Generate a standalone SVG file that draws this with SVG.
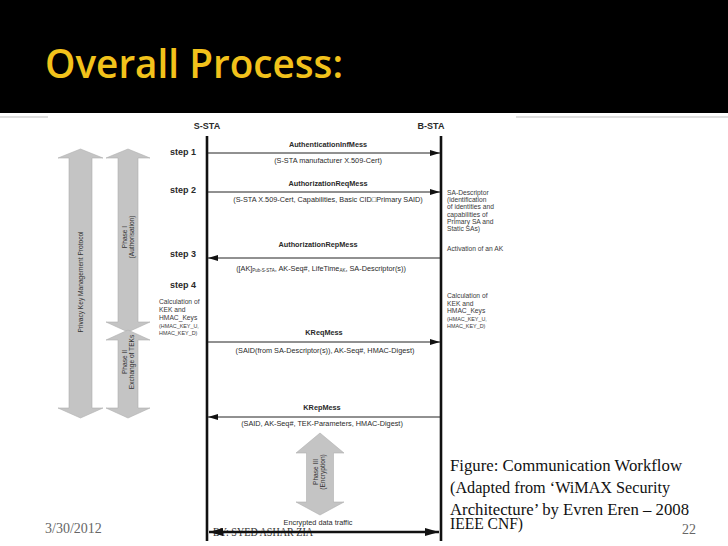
<svg xmlns="http://www.w3.org/2000/svg" width="728" height="546" viewBox="0 0 728 546">
<defs>
<style>
.t{font-family:"Liberation Sans",Arial,sans-serif;fill:#2a2a2a}
.lbl{font-size:7.3px;font-weight:bold;text-anchor:middle}
.sub{font-size:7.3px;text-anchor:middle}
.step{font-size:9px;font-weight:bold}
.note{font-size:6.7px;fill:#3a3a3a}
.small{font-size:5.4px;fill:#3a3a3a}
.rot{font-size:6.6px;text-anchor:middle;fill:#333}
.msg{stroke:#222;stroke-width:1;fill:none}
.life{stroke:#111;stroke-width:2.6}
.garrow{fill:#c4c4c4;stroke:#b0b0b0;stroke-width:0.6}
.serif{font-family:"Liberation Serif","Times New Roman",serif}
</style>
<marker id="ah" viewBox="0 0 10 6" refX="10" refY="3" markerWidth="10" markerHeight="6" markerUnits="userSpaceOnUse" orient="auto">
<path d="M0,0 L10,3 L0,6 z" fill="#111"/>
</marker>
<marker id="ahb" viewBox="0 0 14 8" refX="14" refY="4" markerWidth="14" markerHeight="8" markerUnits="userSpaceOnUse" orient="auto-start-reverse">
<path d="M0,0 L14,4 L0,8 z" fill="#111"/>
</marker>
</defs>
<rect x="0" y="0" width="728" height="546" fill="#ffffff"/>
<g id="header">
<rect x="0" y="0" width="728" height="113" fill="#000000"/>
<text x="45" y="78" font-family="Open Sans,Lato,sans-serif" font-size="40" font-weight="600" fill="#F2C21B" textLength="298" lengthAdjust="spacingAndGlyphs">Overall Process:</text>
<line x1="0" y1="117" x2="48" y2="117" stroke="#bdbdbd" stroke-width="1.2"/>
<line x1="516" y1="117" x2="728" y2="117" stroke="#bdbdbd" stroke-width="1.2"/>
</g>
<g id="pkm-arrow">
<polygon class="garrow" points="80.5,149 103,158 92,158 92,408 103,408 80.5,418 58,408 69,408 69,158 58,158"/>
<text class="t rot" transform="translate(82.5,282) rotate(-90)">Privacy Key Management Protocol</text>
</g>
<g id="phase1-arrow">
<polygon class="garrow" points="128,149 150,158 138,158 138,322 150,322 128,332 106,322 118,322 118,158 106,158"/>
<text class="t rot" transform="translate(127,237) rotate(-90)">Phase I</text>
<text class="t rot" transform="translate(134,237) rotate(-90)">(Authorisation)</text>
</g>
<g id="phase2-arrow">
<polygon class="garrow" points="128,330 150,340 138,340 138,408 150,408 128,418 106,408 118,408 118,340 106,340"/>
<text class="t rot" transform="translate(127,362) rotate(-90)">Phase II</text>
<text class="t rot" transform="translate(134,362) rotate(-90)">Exchange of TEKs</text>
</g>
<g id="s-sta">
<text class="t" x="207" y="129" font-size="9" font-weight="bold" text-anchor="middle">S-STA</text>
<line class="life" x1="207" y1="136" x2="207" y2="541"/>
</g>
<g id="b-sta">
<text class="t" x="431" y="129" font-size="9" font-weight="bold" text-anchor="middle">B-STA</text>
<line class="life" x1="441" y1="136" x2="441" y2="541"/>
</g>
<g id="steps">
<text class="t step" x="170" y="155">step 1</text>
<text class="t step" x="170" y="193">step 2</text>
<text class="t step" x="170" y="257">step 3</text>
<text class="t step" x="170" y="288">step 4</text>
</g>
<g id="left-calc">
<text class="t note" x="159" y="304">Calculation of</text>
<text class="t note" x="159" y="312">KEK and</text>
<text class="t note" x="159" y="320">HMAC_Keys</text>
<text class="t small" x="159" y="328">(HMAC_KEY_U,</text>
<text class="t small" x="159" y="335">HMAC_KEY_D)</text>
</g>
<g id="right-notes">
<text class="t note" x="447" y="195">SA-Descriptor</text>
<text class="t note" x="447" y="202.2">(identification</text>
<text class="t note" x="447" y="209.4">of identities and</text>
<text class="t note" x="447" y="216.6">capabilities of</text>
<text class="t note" x="447" y="223.8">Primary SA and</text>
<text class="t note" x="447" y="231">Static SAs)</text>
<text class="t note" x="447" y="251">Activation of an AK</text>
<text class="t note" x="447" y="298">Calculation of</text>
<text class="t note" x="447" y="305.5">KEK and</text>
<text class="t note" x="447" y="313">HMAC_Keys</text>
<text class="t small" x="447" y="321">(HMAC_KEY_U,</text>
<text class="t small" x="447" y="328">HMAC_KEY_D)</text>
</g>
<g id="phase3-arrow">
<polygon class="garrow" points="320,433 344,453 333.5,453 333.5,502 344,502 320,515 296,502 306.5,502 306.5,453 296,453"/>
<text class="t rot" transform="translate(318,472) rotate(-90)">Phase III</text>
<text class="t rot" transform="translate(325,472) rotate(-90)">(Encryption)</text>
</g>
<g id="connectors">
<line class="msg" x1="208" y1="153" x2="440" y2="153" marker-end="url(#ah)"/>
<text class="t lbl" x="328" y="147">AuthenticationInfMess</text>
<text class="t sub" x="328" y="163">(S-STA manufacturer X.509-Cert)</text>
<line class="msg" x1="208" y1="192" x2="440" y2="192" marker-end="url(#ah)"/>
<text class="t lbl" x="328" y="186">AuthorizationReqMess</text>
<text class="t sub" x="328" y="202">(S-STA X.509-Cert, Capabilities, Basic CID□Primary SAID)</text>
<line class="msg" x1="440" y1="258" x2="208" y2="258" marker-end="url(#ah)"/>
<text class="t lbl" x="318" y="247">AuthorizationRepMess</text>
<text class="t sub" x="321" y="271">([AK]<tspan font-size="4.5" dy="1">Pub-S-STA</tspan><tspan dy="-1">, AK-Seq#, LifeTime</tspan><tspan font-size="4.5" dy="1">AK</tspan><tspan dy="-1">, SA-Descriptor(s))</tspan></text>
<line class="msg" x1="208" y1="342" x2="440" y2="342" marker-end="url(#ah)"/>
<text class="t lbl" x="324" y="335">KReqMess</text>
<text class="t sub" x="325" y="353">(SAID(from SA-Descriptor(s)), AK-Seq#, HMAC-Digest)</text>
<line class="msg" x1="440" y1="417" x2="208" y2="417" marker-end="url(#ah)"/>
<text class="t lbl" x="322" y="410">KRepMess</text>
<text class="t sub" x="322" y="426">(SAID, AK-Seq#, TEK-Parameters, HMAC-Digest)</text>
<text class="t sub" x="318" y="525" fill="#444">Encrypted data traffic</text>
<text class="serif" x="213" y="536" font-size="12.5" fill="#333" textLength="100" lengthAdjust="spacingAndGlyphs">BY: SYED ASHAR ZIA</text>
<line x1="209" y1="532" x2="439" y2="532" stroke="#111" stroke-width="2.6" marker-start="url(#ahb)" marker-end="url(#ahb)"/>
</g>
<g id="caption">
<text class="serif" x="450" y="471" font-size="16" fill="#111" textLength="232" lengthAdjust="spacingAndGlyphs">Figure: Communication Workflow</text>
<text class="serif" x="450" y="493" font-size="16" fill="#111" textLength="220" lengthAdjust="spacingAndGlyphs">(Adapted from ‘WiMAX Security</text>
<text class="serif" x="450" y="515" font-size="16" fill="#111" textLength="239" lengthAdjust="spacingAndGlyphs">Architecture’ by Evren Eren – 2008</text>
<text class="serif" x="450" y="529" font-size="16" fill="#111" textLength="73" lengthAdjust="spacingAndGlyphs">IEEE CNF)</text>
</g>
<g id="footer">
<text class="serif" x="45" y="533" font-size="14" fill="#666">3/30/2012</text>
<text class="serif" x="682" y="534" font-size="14" fill="#666">22</text>
</g>
</svg>
